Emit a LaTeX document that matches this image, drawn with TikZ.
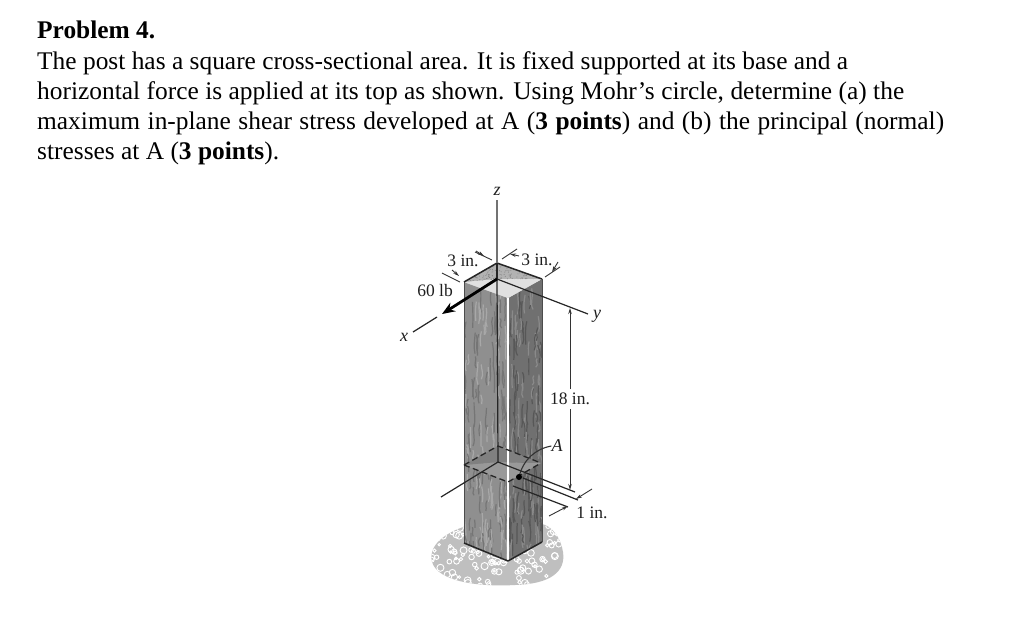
\documentclass[tikz,border=0pt]{standalone}
\usepackage{fontspec}
\setmainfont{Liberation Serif}
\usetikzlibrary{arrows.meta}
\definecolor{inkc}{gray}{0.12}
\tikzset{
  x=1pt,y=-1pt,
  para/.style={anchor=base west,inner sep=0pt,font=\fontsize{25.4}{28}\selectfont,text=black},
  lab/.style={inner sep=0pt,font=\fontsize{17.5}{19}\selectfont,text=inkc},
  ilab/.style={inner sep=0pt,font=\fontsize{18}{19}\selectfont\itshape,text=inkc},
  axis/.style={draw=black!85,line width=1.2pt},
  dimline/.style={draw=black!80,line width=0.9pt},
  dimtip/.style={-{Stealth[length=6pt,width=3.5pt]}},
  hid/.style={draw=black!85,line width=1.3pt,dash pattern=on 6pt off 3.5pt},
  edge/.style={draw=black!85,line width=1.5pt,line join=round},
}
\begin{document}
\begin{tikzpicture}
\useasboundingbox (0,0) rectangle (1024,625);
\fill[white] (0,0) rectangle (1024,625);
\node[para] (t0) at (37,38) {\textbf{Problem 4.}};
\node[para] (t1) at (37,69) {\makebox[811pt][s]{The post has a square cross-sectional area. It is fixed supported at its base and a}};
\node[para] (t2) at (37,99) {\makebox[867pt][s]{horizontal force is applied at its top as shown. Using Mohr’s circle, determine (a) the}};
\node[para] (t3) at (37,129) {\makebox[907pt][s]{maximum in-plane shear stress developed at A (\textbf{3 points}) and (b) the principal (normal)}};
\node[para] (t4) at (37,159) {stresses at A (\textbf{3 points}).};
% key points
\coordinate (tb) at (497,263); \coordinate (tl) at (464,282);
\coordinate (tr) at (542,279); \coordinate (tf) at (508,298);
\coordinate (bl) at (464,543); \coordinate (bf) at (508,561); \coordinate (br) at (542,542);
\coordinate (sl) at (464,465); \coordinate (sb) at (498,446);
\coordinate (sr) at (541,463); \coordinate (sf) at (508,482); \coordinate (sc) at (498,462);
\coordinate (o) at (497,279); \coordinate (pa) at (519,477);
% ground
\begin{scope}
\def\groundpath{(466,526) .. controls (445,533) and (428,545) .. (432,562)
  .. controls (438,582) and (480,587) .. (515,585)
  .. controls (550,584) and (566,572) .. (563,552)
  .. controls (561,538) and (552,526) .. (542,524) -- cycle}
\fill[black!25] \groundpath;
\clip \groundpath;
\pgfmathsetseed{41}
\foreach \i in {1,...,150}{
  \pgfmathsetmacro{\gx}{430+rnd*135}\pgfmathsetmacro{\gy}{524+rnd*62}
  \pgfmathsetmacro{\sz}{1.2+rnd*2.4}
  \draw[white,line width=0.9pt] (\gx,\gy) circle[radius=\sz];
}
\end{scope}
% faces
\fill[black!44] (tl) -- (tf) -- (bf) -- (bl) -- cycle;
\fill[black!56] (tf) -- (tr) -- (br) -- (bf) -- cycle;
\begin{scope}
\clip (tl) -- (tf) -- (bf) -- (bl) -- cycle;
\foreach \i in {1,...,200}{
  \pgfmathsetmacro{\xa}{462+rnd*48}\pgfmathsetmacro{\ya}{285+rnd*270}
  \pgfmathsetmacro{\wa}{(rnd-0.5)*6}\pgfmathsetmacro{\wb}{(rnd-0.5)*6}
  \pgfmathsetmacro{\len}{8+rnd*18}\pgfmathsetmacro{\shade}{rnd<0.5?34:54}
  \draw[black!\shade,line width=1.2pt] (\xa,\ya) .. controls (\xa+\wa,\ya+\len/3) and (\xa+\wb,\ya+2*\len/3) .. (\xa+\wa/2,\ya+\len);
}
\end{scope}
\begin{scope}
\clip (tf) -- (tr) -- (br) -- (bf) -- cycle;
\foreach \i in {1,...,170}{
  \pgfmathsetmacro{\xa}{506+rnd*38}\pgfmathsetmacro{\ya}{285+rnd*270}
  \pgfmathsetmacro{\wa}{(rnd-0.5)*6}\pgfmathsetmacro{\wb}{(rnd-0.5)*6}
  \pgfmathsetmacro{\len}{8+rnd*18}\pgfmathsetmacro{\shade}{rnd<0.5?46:66}
  \draw[black!\shade,line width=1.2pt] (\xa,\ya) .. controls (\xa+\wa,\ya+\len/3) and (\xa+\wb,\ya+2*\len/3) .. (\xa+\wa/2,\ya+\len);
}
\end{scope}
% top face
\fill[black!30] (tb) -- (tr) -- (tf) -- (tl) -- cycle;
\fill[black!12] (tl) -- (o) -- (tr) -- (tf) -- cycle;
\begin{scope}
\clip (tb) -- (tr) -- (o) -- (tl) -- cycle;
\foreach \i in {1,...,260}{
  \pgfmathsetmacro{\xa}{464+rnd*78}\pgfmathsetmacro{\ya}{263+rnd*20}
  \fill[black!50] (\xa,\ya) circle[radius=0.5];
}
\end{scope}
% section plane
\fill[black!40] (sl) -- (sc) -- (sr) -- (sf) -- cycle;
\fill[black!50] (sl) -- (sb) -- (sr) -- (sc) -- cycle;
\draw[white,line width=1.6pt] (tf) -- (bf);
\draw[black!70,line width=1pt] (tl) -- (bl);
\draw[black!70,line width=1pt] (tr) -- (br);
\draw[edge] (tl) -- (tb) -- (tr);
\draw[edge] (bl) -- (bf) -- (br);
\draw[hid] (sl) -- (sb) -- (sr);
\draw[hid] (sl) -- (sf) -- (sr);
% axes
\draw[axis,black!55,line width=1.4pt] (497,200) -- (tb);
\draw[axis] (tb) -- (o);
\draw[axis] (o) -- (sc);
\draw[axis] (o) -- (588,314);
\coordinate (xs) at (437,317); \coordinate (xe) at (413,332);
\draw[axis] (xs) -- (xe);
\coordinate (fe) at (442,314);
\draw[draw=black,line width=2.8pt,-{Stealth[length=13pt,width=10pt]}] (o) -- (fe);
\draw[axis] (441,497) -- (sc);
\draw[axis] (sc) -- (575,492);
\draw[axis] (523,478) -- (578,500);
\draw[axis] (513,486) -- (568,507);
% labels
\node[ilab] (lz) at (497,191) {z};
\node[ilab] (lx) at (404,337) {x};
\node[ilab] (ly) at (597,316) {y};
\node[lab] (lf) at (435,291) {60 lb};
\node[lab] (l3a) at (463,261) {3 in.};
\node[lab] (l3b) at (537,260) {3 in.};
\node[lab] (l18) at (570,399) {18 in.};
\node[lab] (l1) at (592,513) {1 in.};
\node[ilab] (la) at (557,446) {A};
% dimensions
\coordinate (d18a) at (570,308); \coordinate (d18b) at (570,490);
\draw[dimline,dimtip] (570,389) -- (d18a);
\draw[dimline,dimtip] (570,409) -- (d18b);
\draw[dimline] (442,273) -- (460,282);
\draw[dimline] (475,252) -- (492,260);
\draw[dimline] (502,259) -- (517,249);
\draw[dimline] (545,277) -- (560,267);
\draw[dimline,dimtip] (452,270) -- (459,276);
\draw[dimline,dimtip] (476,251) -- (484,256);
\draw[dimline,dimtip] (519,256) -- (510,254);
\draw[dimline,dimtip] (558,262) -- (552,272);
\draw[dimline,dimtip] (592,489) -- (576,499);
\draw[dimline,dimtip] (549,516) -- (568,506);
% point A
\draw[dimline,line width=1.1pt] (pa) .. controls (523,460) and (535,449) .. (la.west);
\fill[black] (pa) circle[radius=3];
\end{tikzpicture}
\end{document}
